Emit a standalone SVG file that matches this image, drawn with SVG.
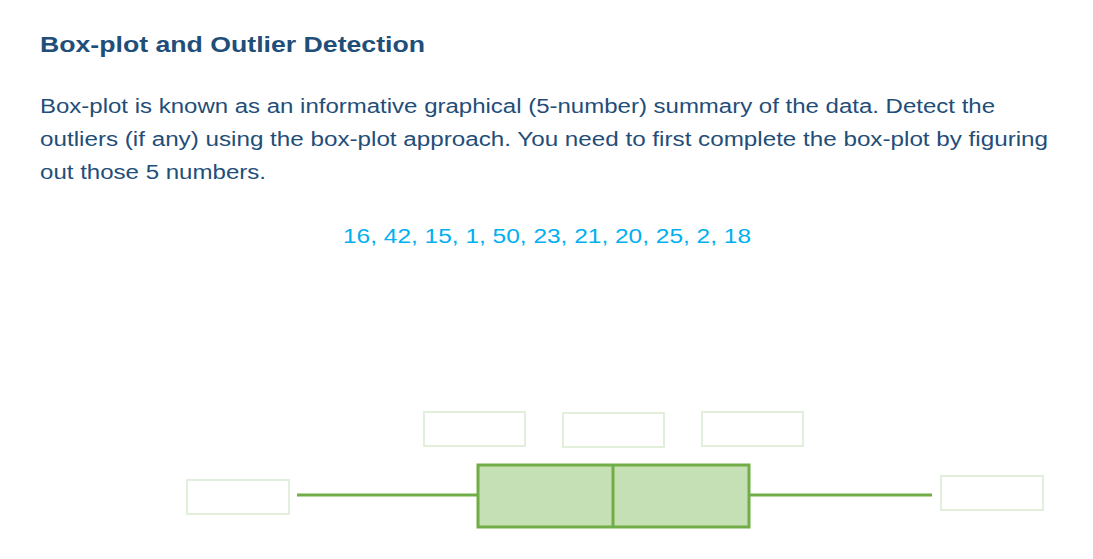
<svg xmlns="http://www.w3.org/2000/svg" width="1093" height="559" viewBox="0 0 1093 559">
<style>
.t{font-family:"Liberation Sans",Arial,sans-serif;fill:#1f4e79}
.lbl{fill:#fff;stroke:#e2efda;stroke-width:2}
.ln{stroke:#70ad47;stroke-width:3;fill:none}
</style>
<rect width="1093" height="559" fill="#fff"/>
<text class="t" x="40" y="52" font-size="22" font-weight="bold" textLength="385" lengthAdjust="spacingAndGlyphs">Box-plot and Outlier Detection</text>
<text class="t" x="40" y="113" font-size="20" textLength="955" lengthAdjust="spacingAndGlyphs">Box-plot is known as an informative graphical (5-number) summary of the data. Detect the</text>
<text class="t" x="40" y="146" font-size="20" textLength="1008" lengthAdjust="spacingAndGlyphs">outliers (if any) using the box-plot approach. You need to first complete the box-plot by figuring</text>
<text class="t" x="40" y="179" font-size="20" textLength="226" lengthAdjust="spacingAndGlyphs">out those 5 numbers.</text>
<text x="343" y="243" font-size="20" fill="#00b0f0" font-family="Liberation Sans,Arial,sans-serif" textLength="408" lengthAdjust="spacingAndGlyphs">16,  42,  15,  1, 50,  23, 21, 20, 25, 2, 18</text>
<g id="label-q1"><rect class="lbl" x="424" y="412" width="101" height="34"/></g>
<g id="label-median"><rect class="lbl" x="563" y="413" width="101" height="34"/></g>
<g id="label-q3"><rect class="lbl" x="702" y="412" width="101" height="34"/></g>
<g id="label-min"><rect class="lbl" x="187" y="480" width="102" height="34"/></g>
<g id="label-max"><rect class="lbl" x="941" y="476" width="102" height="34"/></g>
<g id="connectors">
<line class="ln" x1="297" y1="495" x2="478" y2="495"/>
<line class="ln" x1="749" y1="495" x2="932" y2="495"/>
</g>
<g id="box"><rect x="478" y="465" width="271" height="62" fill="#c5e0b4" stroke="#70ad47" stroke-width="3"/>
<line class="ln" x1="613" y1="465" x2="613" y2="527" stroke-width="2"/></g>
</svg>
